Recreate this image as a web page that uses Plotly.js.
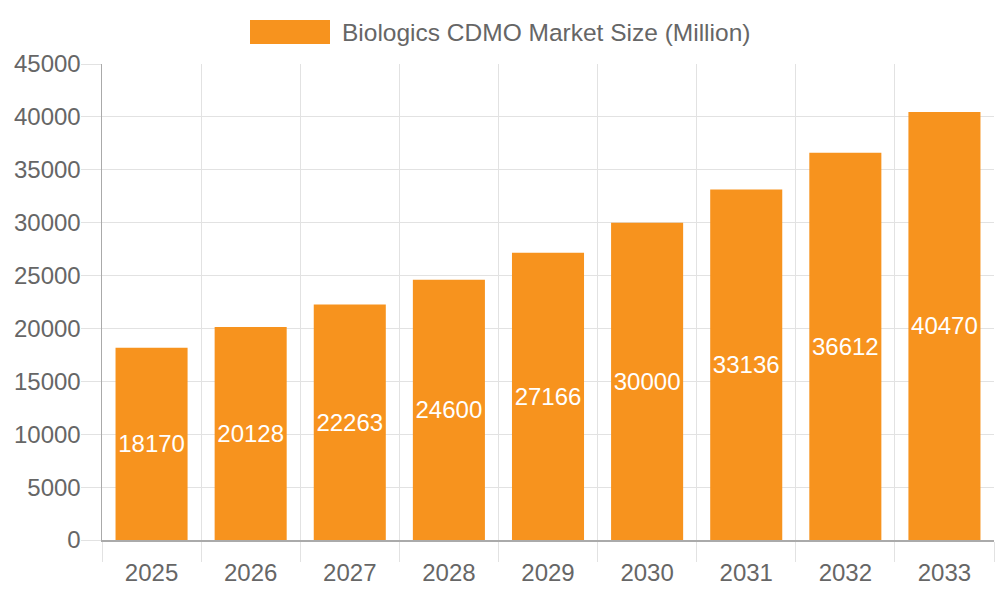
<!DOCTYPE html>
<html>
<head>
<meta charset="utf-8">
<script src="https://cdn.plot.ly/plotly-3.0.1.min.js"></script>
<style>html,body{margin:0;padding:0;background:#fff;}#chart{width:1000px;height:600px;}</style>
</head>
<body>
<div id="chart"></div>
<script>
const years = ["2025","2026","2027","2028","2029","2030","2031","2032","2033"];
const marketSize = [18170,20128,22263,24600,27166,30000,33136,36612,40470];
const seriesName = "Biologics CDMO Market Size (Million)";
const barColor = "#F7931E";

const trace = {
  type: "bar",
  x: years,
  y: marketSize,
  name: seriesName,
  marker: {color: barColor},
  texttemplate: "%{y:d}",
  textposition: "inside",
  insidetextanchor: "middle",
  constraintext: "none",
  textangle: 0,
  textfont: {family: "Liberation Sans, Arial, sans-serif", size: 24, color: "#ffffff"},
  hoverinfo: "x+y",
  showlegend: false
};

const layout = {
  width: 1000, height: 600,
  margin: {l: 102, r: 6, t: 64, b: 60},
  paper_bgcolor: "#fff", plot_bgcolor: "#fff",
  font: {family: "Liberation Sans, Arial, sans-serif", size: 24, color: "#666"},
  bargap: 0.273,
  showlegend: false,
  xaxis: {
    type: "category",
    tickson: "boundaries",
    ticks: "outside", ticklen: 20, tickcolor: "#e2e2e2", tickwidth: 1,
    showgrid: true, gridcolor: "#e2e2e2", gridwidth: 1,
    showline: true, linecolor: "#aaaaaa", linewidth: 1.5,
    tickfont: {size: 24, color: "#666"},
    ticklabelstandoff: 11,
    fixedrange: true
  },
  yaxis: {
    range: [0, 45000], dtick: 5000, tick0: 0,
    tickformat: "d",
    ticks: "outside", ticklen: 20, tickcolor: "#e2e2e2", tickwidth: 1,
    showgrid: true, gridcolor: "#e2e2e2", gridwidth: 1,
    zeroline: false,
    showline: true, linecolor: "#aaaaaa", linewidth: 1.5,
    tickfont: {size: 24, color: "#666"},
    ticklabelstandoff: -5,
    fixedrange: true
  },
  shapes: [{
    type: "rect", xref: "paper", yref: "paper",
    x0: (250-102)/892, x1: (330-102)/892, y0: 1 + (64-44)/476, y1: 1 + (64-20)/476,
    fillcolor: barColor, line: {width: 0}
  }],
  annotations: [{
    text: seriesName, xref: "paper", yref: "paper",
    x: (340-102)/892, y: 1 + (64-32)/476, xanchor: "left", yanchor: "middle",
    showarrow: false, font: {size: 24.5, color: "#666"}
  }]
};

Plotly.newPlot("chart", [trace], layout, {displayModeBar: false, staticPlot: true});
</script>
</body>
</html>
